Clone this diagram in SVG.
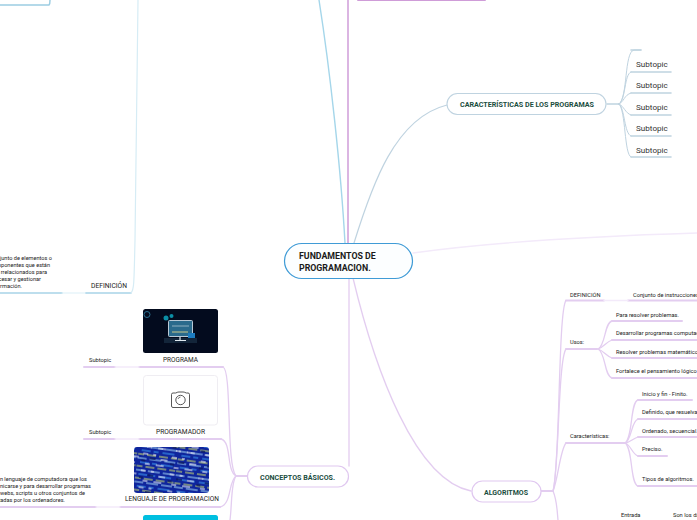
<svg xmlns="http://www.w3.org/2000/svg" width="697" height="520" viewBox="0 0 697 520">
<style>
text{font-family:Roboto,"Liberation Sans",sans-serif}
.c{fill:none;stroke-linecap:round}
.p{stroke:#e3cdf0;stroke-width:1.3}
.pt{stroke:#e3cdf0;stroke-width:2}
.pl{stroke:#f3eafa;stroke-width:1.3}
.b{stroke:#bfd3e0;stroke-width:1}
.bt{stroke:#bfd3e0;stroke-width:1.6}
.node{fill:#fff;stroke:#e0c8f0;stroke-width:1.2}
.t{font-size:8px;font-weight:700;fill:#1a4d40;text-anchor:middle}
.s{font-size:5.7px;fill:#222}
.e{font-size:5.6px;fill:#222;text-anchor:end}
.l{font-size:7px;fill:#222;text-anchor:middle}
.st{font-size:8.1px;fill:#333}
</style>
<defs>
<pattern id="code" width="40" height="12" patternUnits="userSpaceOnUse" patternTransform="rotate(8)">
<rect width="40" height="12" fill="#0f259c"/>
<path d="M0 2H9M12 2H24M27 2H38" stroke="#a8dcf8" stroke-width="1.2"/>
<path d="M3 6H12M15 6H20M24 6H36" stroke="#3f9ff5" stroke-width="1.2"/>
<path d="M0 10H6M9 10H18M21 10H30M33 10H39" stroke="#d8e86a" stroke-width="1"/>
</pattern>
<pattern id="code2" width="29" height="17" patternUnits="userSpaceOnUse" patternTransform="rotate(8)">
<path d="M2 4H7M12 4H15M20 8H27M5 14H10M16 14H24" stroke="#ffffff" stroke-width="1.1"/>
<path d="M9 8H15M1 11H5" stroke="#0b1a5e" stroke-width="1.400"/>
</pattern>
</defs>
<g id="connectors">
<path class="c" d="M345 243C341 170 330 70 319 0" stroke="#a5d6ea" stroke-width="1.4"/>
<path class="c" d="M348 243V0" stroke="#cf9cd8" stroke-width="1.5"/>
<path class="c" d="M358 0H485" stroke="#cf9cd8" stroke-width="2"/>
<path class="c" d="M354 243C372 185 395 118 447 105" stroke="#bfd3e0" stroke-width="1.2"/>
<path class="c" d="M413 253C500 241 600 236 697 233" stroke="#f3eafa" stroke-width="1.3"/>
<path class="c" d="M353 278C375 370 415 480 471 491" stroke="#e3cdf0" stroke-width="1.3"/>
<path class="c" d="M349 278V466" stroke="#e3cdf0" stroke-width="1.3"/>
<path class="c" d="M0 293H62" stroke="#a8d4e8" stroke-width="1.6"/>
<path class="c" d="M62 293H86" stroke="#dcf0f8" stroke-width="1.2"/>
<path class="c" d="M86 293H131" stroke="#a8d4e8" stroke-width="1.6"/>
<path class="c" d="M131 293C134 290 134 285 135 240L138 0" stroke="#d6ecf5" stroke-width="1.2"/>
<path class="c" d="M0 5H49C50 4 50 2 50 0" stroke="#9ccde2" stroke-width="1.5"/>
<path class="c pt" d="M84 367H115M139 367H223"/>
<path class="c pl" d="M115 367H139"/>
<path class="c p" d="M223 367C232 370 226 465 236 476"/>
<path class="c pt" d="M84 439H115M139 439H221"/>
<path class="c pl" d="M115 439H139"/>
<path class="c p" d="M221 439C232 442 226 470 236 476"/>
<path class="c pt" d="M0 507H96M120 507H220"/>
<path class="c pl" d="M96 507H120"/>
<path class="c p" d="M220 507C232 504 228 482 236 476"/>
<path class="c p" d="M236 476C231 482 232 505 230 520"/>
<path class="c pt" d="M236 476H247"/>
<path class="c bt" d="M607 104H619"/>
<path class="c b" d="M619 104C628 98 624 52 634 50H641"/>
<path class="c b" d="M619 104C626 100 624 74 631 72"/>
<path class="c b" d="M619 104C624 102 624 95 631 93"/>
<path class="c b" d="M619 104C624 106 625 113 631 115"/>
<path class="c b" d="M619 104C625 108 624 134 631 136"/>
<path class="c b" d="M619 104C626 110 624 155 631 157"/>
<path class="c bt" d="M631 50H641M631 72H671M631 93H671M631 115H671M631 136H671M631 157H671"/>
<path class="c pt" d="M541 491H553"/>
<path class="c p" d="M553 491C560 470 558 310 566 300.5"/>
<path class="c p" d="M553 491C559 470 558 360 566 349"/>
<path class="c p" d="M553 491C558 480 560 450 566 443"/>
<path class="c p" d="M553 491C557 500 557 510 558 520"/>
<path class="c pt" d="M566 300.5H604M628 300.5H697M566 349H597M566 443H625"/>
<path class="c pl" d="M604 300.5H628"/>
<path class="c p" d="M598 349C606 345 604 323 612 321"/>
<path class="c p" d="M598 349C604 347 606 342 612 340"/>
<path class="c p" d="M598 349C604 351 606 356 612 358"/>
<path class="c p" d="M598 349C606 353 604 376 612 378"/>
<path class="c pt" d="M612 321H682M612 340H697M612 358H697M612 378H697"/>
<path class="c p" d="M625 443C633 438 630 402 638 400"/>
<path class="c p" d="M625 443C632 440 631 421 638 419"/>
<path class="c p" d="M625 443C631 442 632 439 638 437"/>
<path class="c p" d="M625 443C631 445 632 454 638 456"/>
<path class="c p" d="M625 443C633 448 630 484 638 486"/>
<path class="c pt" d="M638 400H692M638 419H697M638 437H697M638 456H667M638 486H697"/>
</g>
<g id="fundamentos">
<rect x="284.500" y="243.500" width="128" height="35" rx="17.500" fill="#fcfeff" stroke="#3f9bd6" stroke-width="1.200"/>
<text x="299" y="258.500" font-size="8.800" font-weight="700" fill="#1a1a1a">FUNDAMENTOS DE</text>
<text x="299" y="270.500" font-size="8.800" font-weight="700" fill="#1a1a1a">PROGRAMACION.</text>
</g>
<g id="caracteristicas">
<rect x="447" y="93.500" width="159" height="21" rx="10.500" fill="#fff" stroke="#bfd3e0" stroke-width="1.100"/>
<text class="t" x="527" y="107" textLength="134" lengthAdjust="spacingAndGlyphs">CARACTERÍSTICAS DE LOS PROGRAMAS</text>
</g>
<g id="subtopics-right">
<text class="st" x="636" y="67">Subtopic</text>
<text class="st" x="636" y="88">Subtopic</text>
<text class="st" x="636" y="110">Subtopic</text>
<text class="st" x="636" y="131">Subtopic</text>
<text class="st" x="636" y="153">Subtopic</text>
</g>
<g id="conceptos">
<rect class="node" x="247.500" y="466" width="101" height="21" rx="10.500"/>
<text class="t" x="297.500" y="479.500" textLength="75" lengthAdjust="spacingAndGlyphs">CONCEPTOS BÁSICOS.</text>
</g>
<g id="algoritmos">
<rect class="node" x="472" y="481" width="69" height="21" rx="10.500"/>
<text class="t" x="506" y="494.500" textLength="44" lengthAdjust="spacingAndGlyphs">ALGORITMOS</text>
</g>
<g id="definicion-left">
<text class="e" x="52" y="260">njunto de elementos o</text>
<text class="e" x="50" y="267">mponentes que están</text>
<text class="e" x="47" y="274">rrelacionados para</text>
<text class="e" x="41" y="281">cesar y gestionar</text>
<text class="e" x="22" y="288">rmación.</text>
<text class="l" x="109" y="288" textLength="36" lengthAdjust="spacingAndGlyphs">DEFINICIÓN</text>
</g>
<g id="programa">
<rect x="143" y="309" width="75" height="44" rx="2.500" fill="#030b1e"/>
<circle cx="147" cy="314.500" r="3" fill="none" stroke="#2a6f8f"/>
<circle cx="166" cy="318" r="2.500" fill="#0b8fa6"/><circle cx="171.500" cy="316" r="2" fill="#0b8fa6"/>
<rect x="164" y="338" width="33" height="5" fill="#13253a"/>
<rect x="168.500" y="320.500" width="24" height="16" rx="1" fill="#2a6a8c" stroke="#b9c9d6"/>
<path d="M172 326H189" stroke="#8fb0c0"/><path d="M172 332H188" stroke="#c9c98a"/>
<path d="M180 337V340M175 340.500H186" stroke="#dfe8ee" stroke-width="1.200"/>
<rect x="188" y="333" width="7" height="5" fill="#1c7cc0"/>
<text class="l" x="180.500" y="362" textLength="35" lengthAdjust="spacingAndGlyphs">PROGRAMA</text>
<text class="s" x="89" y="362">Subtopic</text>
</g>
<g id="programador">
<rect x="143.500" y="375.500" width="74" height="49.500" rx="3" fill="#fff" stroke="#efedf2"/>
<path d="M173 393H175.500L177 392.500Q177.500 392 179 392H183Q184.500 392 185 392.500L186.500 393H188Q189.500 393 189.500 394.500V406Q189.500 407.500 188 407.500H173Q171.500 407.500 171.500 406V394.500Q171.500 393 173 393Z" fill="none" stroke="#444" stroke-width=".9"/>
<circle cx="180.500" cy="400" r="4.700" fill="none" stroke="#444" stroke-width=".9"/>
<path d="M178 399A2.800 2.800 0 0 1 180.500 397" fill="none" stroke="#444" stroke-width=".7"/>
<text class="l" x="180.500" y="434" textLength="49" lengthAdjust="spacingAndGlyphs">PROGRAMADOR</text>
<text class="s" x="89" y="434">Subtopic</text>
</g>
<g id="lenguaje">
<rect x="134" y="447" width="75" height="46" rx="3" fill="url(#code)"/>
<rect x="134" y="447" width="75" height="46" rx="3" fill="url(#code2)"/>
<text class="l" x="172" y="501" textLength="94" lengthAdjust="spacingAndGlyphs">LENGUAJE DE PROGRAMACION</text>
<text class="e" x="87" y="481">n lenguaje de computadora que los</text>
<text class="e" x="91" y="488">nicarse y para desarrollar programas</text>
<text class="e" x="85" y="495">s webs, scripts u otros conjuntos de</text>
<text class="e" x="65" y="502">tadas por los ordenadores.</text>
</g>
<g id="cyan-card">
<rect x="143" y="515" width="75" height="10" rx="2.500" fill="#00bfe0"/>
</g>
<g id="algoritmos-children">
<text class="s" x="570" y="297">DEFINICIÓN</text>
<text class="s" x="633" y="297">Conjunto de instrucciones</text>
<text class="s" x="570" y="344">Usos:</text>
<text class="s" x="616" y="317">Para resolver problemas.</text>
<text class="s" x="616" y="335">Desarrollar programas computac</text>
<text class="s" x="616" y="354">Resolver problemas matemáticos</text>
<text class="s" x="616" y="372.500">Fortalece el pensamiento lógico</text>
<text class="s" x="570" y="438">Características:</text>
<text class="s" x="642" y="396">Inicio y fin - Finito.</text>
<text class="s" x="642" y="414">Definido, que resuelva</text>
<text class="s" x="642" y="433">Ordenado, secuencial.</text>
<text class="s" x="642" y="451">Preciso.</text>
<text class="s" x="642" y="481">Tipos de algoritmos.</text>
<text class="s" x="621" y="517">Entrada</text>
<text class="s" x="673" y="517">Son los da</text>
</g>
</svg>
